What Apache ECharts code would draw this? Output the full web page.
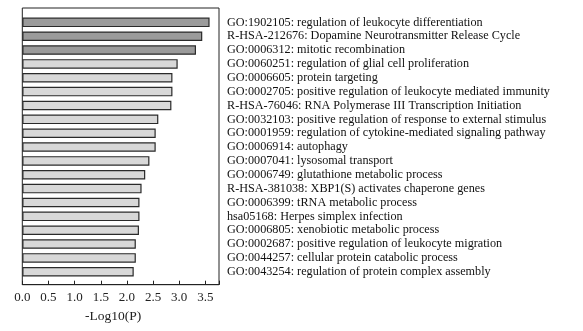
<!DOCTYPE html>
<html>
<head>
<meta charset="utf-8">
<script src="https://cdn.jsdelivr.net/npm/echarts@6/dist/echarts.min.js"></script>
<style>
html,body{margin:0;padding:0;background:#fff;}
#chart{width:583px;height:331px;}
</style>
</head>
<body>
<div id="chart"></div>
<script>
const categories = [
  "GO:1902105: regulation of leukocyte differentiation",
  "R-HSA-212676: Dopamine Neurotransmitter Release Cycle",
  "GO:0006312: mitotic recombination",
  "GO:0060251: regulation of glial cell proliferation",
  "GO:0006605: protein targeting",
  "GO:0002705: positive regulation of leukocyte mediated immunity",
  "R-HSA-76046: RNA Polymerase III Transcription Initiation",
  "GO:0032103: positive regulation of response to external stimulus",
  "GO:0001959: regulation of cytokine-mediated signaling pathway",
  "GO:0006914: autophagy",
  "GO:0007041: lysosomal transport",
  "GO:0006749: glutathione metabolic process",
  "R-HSA-381038: XBP1(S) activates chaperone genes",
  "GO:0006399: tRNA metabolic process",
  "hsa05168: Herpes simplex infection",
  "GO:0006805: xenobiotic metabolic process",
  "GO:0002687: positive regulation of leukocyte migration",
  "GO:0044257: cellular protein catabolic process",
  "GO:0043254: regulation of protein complex assembly"
];
const values = [3.58, 3.44, 3.32, 2.97, 2.87, 2.87, 2.85, 2.60, 2.55, 2.55,
                2.43, 2.35, 2.28, 2.24, 2.24, 2.23, 2.17, 2.17, 2.13];
const highlightCount = 3;
const xTicks = ["0.0","0.5","1.0","1.5","2.0","2.5","3.0","3.5"];
const xMax = 3.76;
const xName = "-Log10(P)";

const font = "'Liberation Serif', 'DejaVu Serif', serif";
const chart = echarts.init(document.getElementById('chart'));
const L = 22.3, R = 583 - 219;
chart.setOption({
  animation: false,
  grid: [
    {left: L, right: R, top: 8, bottom: 331 - 284.7, show: true, borderColor: '#222', borderWidth: 1, backgroundColor: 'transparent'},
    {left: L, right: R, top: 15.4, height: 263.3}
  ],
  xAxis: [
    {gridIndex: 0, type: 'value', min: 0, max: xMax, interval: 0.5,
     axisLine: {show: true, lineStyle: {color: '#222', width: 1}},
     axisTick: {show: true, inside: true, length: 4, lineStyle: {color: '#222'}},
     splitLine: {show: false},
     axisLabel: {margin: 6, color: '#222', fontFamily: font, fontSize: 13,
       formatter: function(v){ const s = v.toFixed(1); return xTicks.indexOf(s) >= 0 ? s : ''; }},
     name: xName, nameLocation: 'middle', nameGap: 25,
     nameTextStyle: {color: '#222', fontFamily: font, fontSize: 13.5, padding: [0, 15, 0, 0]}},
    {gridIndex: 1, type: 'value', min: 0, max: xMax, show: false}
  ],
  yAxis: [
    {gridIndex: 0, type: 'category', data: [''], show: false},
    {gridIndex: 1, type: 'category', data: categories, inverse: true, position: 'right',
     axisLine: {show: false}, axisTick: {show: false},
     axisLabel: {interval: 0, margin: 8, align: 'left', color: '#111', fontFamily: font, fontSize: 12.2}}
  ],
  series: [{
    type: 'bar', xAxisIndex: 1, yAxisIndex: 1,
    barWidth: 9.5,
    data: values.map(function(v, i){
      return {value: v, itemStyle: {color: i < highlightCount ? '#9b9b9b' : '#d8d8d8'}};
    }),
    itemStyle: {borderColor: '#2a2a2a', borderWidth: 1.2}
  }]
});
</script>
</body>
</html>
